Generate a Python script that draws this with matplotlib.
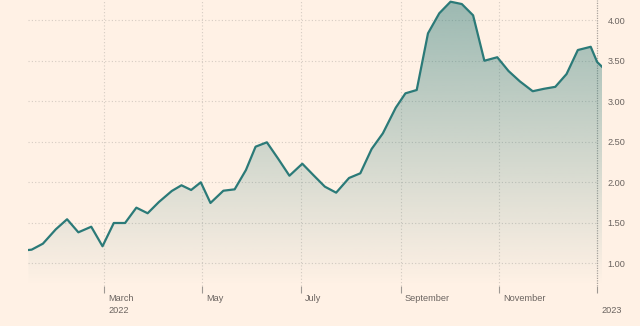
import numpy as np
import pandas as pd
import matplotlib
matplotlib.use("Agg")
import matplotlib.pyplot as plt
import matplotlib.dates as mdates
from matplotlib.transforms import ScaledTranslation

plt.rcParams['font.family'] = ['Liberation Sans', 'DejaVu Sans']

dates = ["2022-01-13", "2022-01-15", "2022-01-22", "2022-01-30", "2022-02-06", "2022-02-13",
         "2022-02-21", "2022-02-28", "2022-03-07", "2022-03-14", "2022-03-21", "2022-03-28",
         "2022-04-04", "2022-04-12", "2022-04-18", "2022-04-24", "2022-04-30", "2022-05-06",
         "2022-05-14", "2022-05-21", "2022-05-28", "2022-06-03", "2022-06-10", "2022-06-17",
         "2022-06-24", "2022-07-02", "2022-07-09", "2022-07-16", "2022-07-23", "2022-07-31",
         "2022-08-07", "2022-08-14", "2022-08-21", "2022-08-29", "2022-09-04", "2022-09-11",
         "2022-09-18", "2022-09-25", "2022-10-02", "2022-10-09", "2022-10-16", "2022-10-23",
         "2022-10-31", "2022-11-07", "2022-11-14", "2022-11-22", "2022-11-29", "2022-12-06",
         "2022-12-13", "2022-12-20", "2022-12-28", "2023-01-01", "2023-01-04"]
values = [1.164, 1.168, 1.242, 1.419, 1.543, 1.382, 1.451, 1.210, 1.497, 1.497,
          1.686, 1.617, 1.756, 1.892, 1.962, 1.904, 1.999, 1.744, 1.895, 1.912,
          2.150, 2.438, 2.492, 2.290, 2.080, 2.228, 2.085, 1.945, 1.871, 2.052,
          2.110, 2.409, 2.603, 2.919, 3.096, 3.137, 3.836, 4.083, 4.226, 4.197,
          4.058, 3.498, 3.541, 3.371, 3.244, 3.122, 3.152, 3.176, 3.334, 3.630,
          3.670, 3.482, 3.424]

tick_dates = ["2022-03-01", "2022-05-01", "2022-07-01", "2022-09-01", "2022-11-01", "2023-01-01"]
tick_labels = ["March\n2022", "May", "July", "September", "November", "\n2023"]
y_ticks = [1.0, 1.5, 2.0, 2.5, 3.0, 3.5, 4.0]

bg = "#fff1e5"
line_col = "#2b7a78"
grid_col = "#d6ccc3"
text_col = "#6b6460"

x = mdates.date2num(pd.to_datetime(dates))
xt = mdates.date2num(pd.to_datetime(tick_dates))

fig = plt.figure(figsize=(6.4, 3.26), dpi=100, facecolor=bg)
ax = fig.add_axes([28 / 640, 1 - 286 / 326, (602 - 28) / 640, 286 / 326])
ax.set_facecolor(bg)

x0 = mdates.date2num(pd.Timestamp("2022-01-12 18:00"))
x1 = x[-1]
y0, y1 = 0.72, 4.247
ax.set_xlim(x0, x1)
ax.set_ylim(y0, y1)

# gridlines, stopping at the year boundary
for yv in y_ticks:
    ax.plot([x0, xt[-1]], [yv, yv], color=grid_col, lw=0.8, ls=(0, (1, 2)), zorder=1)
for xv in xt[:-1]:
    ax.axvline(xv, color=grid_col, lw=0.8, ls=(0, (1, 2)), zorder=1)
ax.axvline(xt[-1], color="#a9a29c", lw=0.9, ls=(0, (1, 1)), zorder=1)

# vertical gradient fill under the line
poly = ax.fill_between(x, values, y0, color="none", lw=0)
n = 256
alpha = np.linspace(0.0, 0.47, n)[:, None]
rgb = np.array(matplotlib.colors.to_rgb(line_col))
grad = np.zeros((n, 1, 4))
grad[..., :3] = rgb
grad[..., 3] = alpha
img = ax.imshow(grad, extent=[x0, x1, y0, y1], origin="lower", aspect="auto", zorder=2,
                interpolation="bilinear")
img.set_clip_path(poly.get_paths()[0], transform=ax.transData)

ax.plot(x, values, color=line_col, lw=1.6, zorder=3)

for s in ax.spines.values():
    s.set_visible(False)

ax.yaxis.tick_right()
ax.set_yticks(y_ticks)
ax.set_yticklabels([f"{v:.2f}" for v in y_ticks])
ax.tick_params(axis="y", length=0, pad=4, labelsize=6.6, labelcolor=text_col)

ax.set_xticks(xt)
ax.set_xticklabels(tick_labels, ha="left", linespacing=1.35)
ax.tick_params(axis="x", length=5, width=0.8, color="#9e9893", pad=1, labelsize=6.6,
               labelcolor=text_col, direction="out")
for lab in ax.get_xticklabels():
    lab.set_transform(lab.get_transform() + ScaledTranslation(4 / 100, 0, fig.dpi_scale_trans))

fig.savefig("out.png", dpi=100, facecolor=bg)
